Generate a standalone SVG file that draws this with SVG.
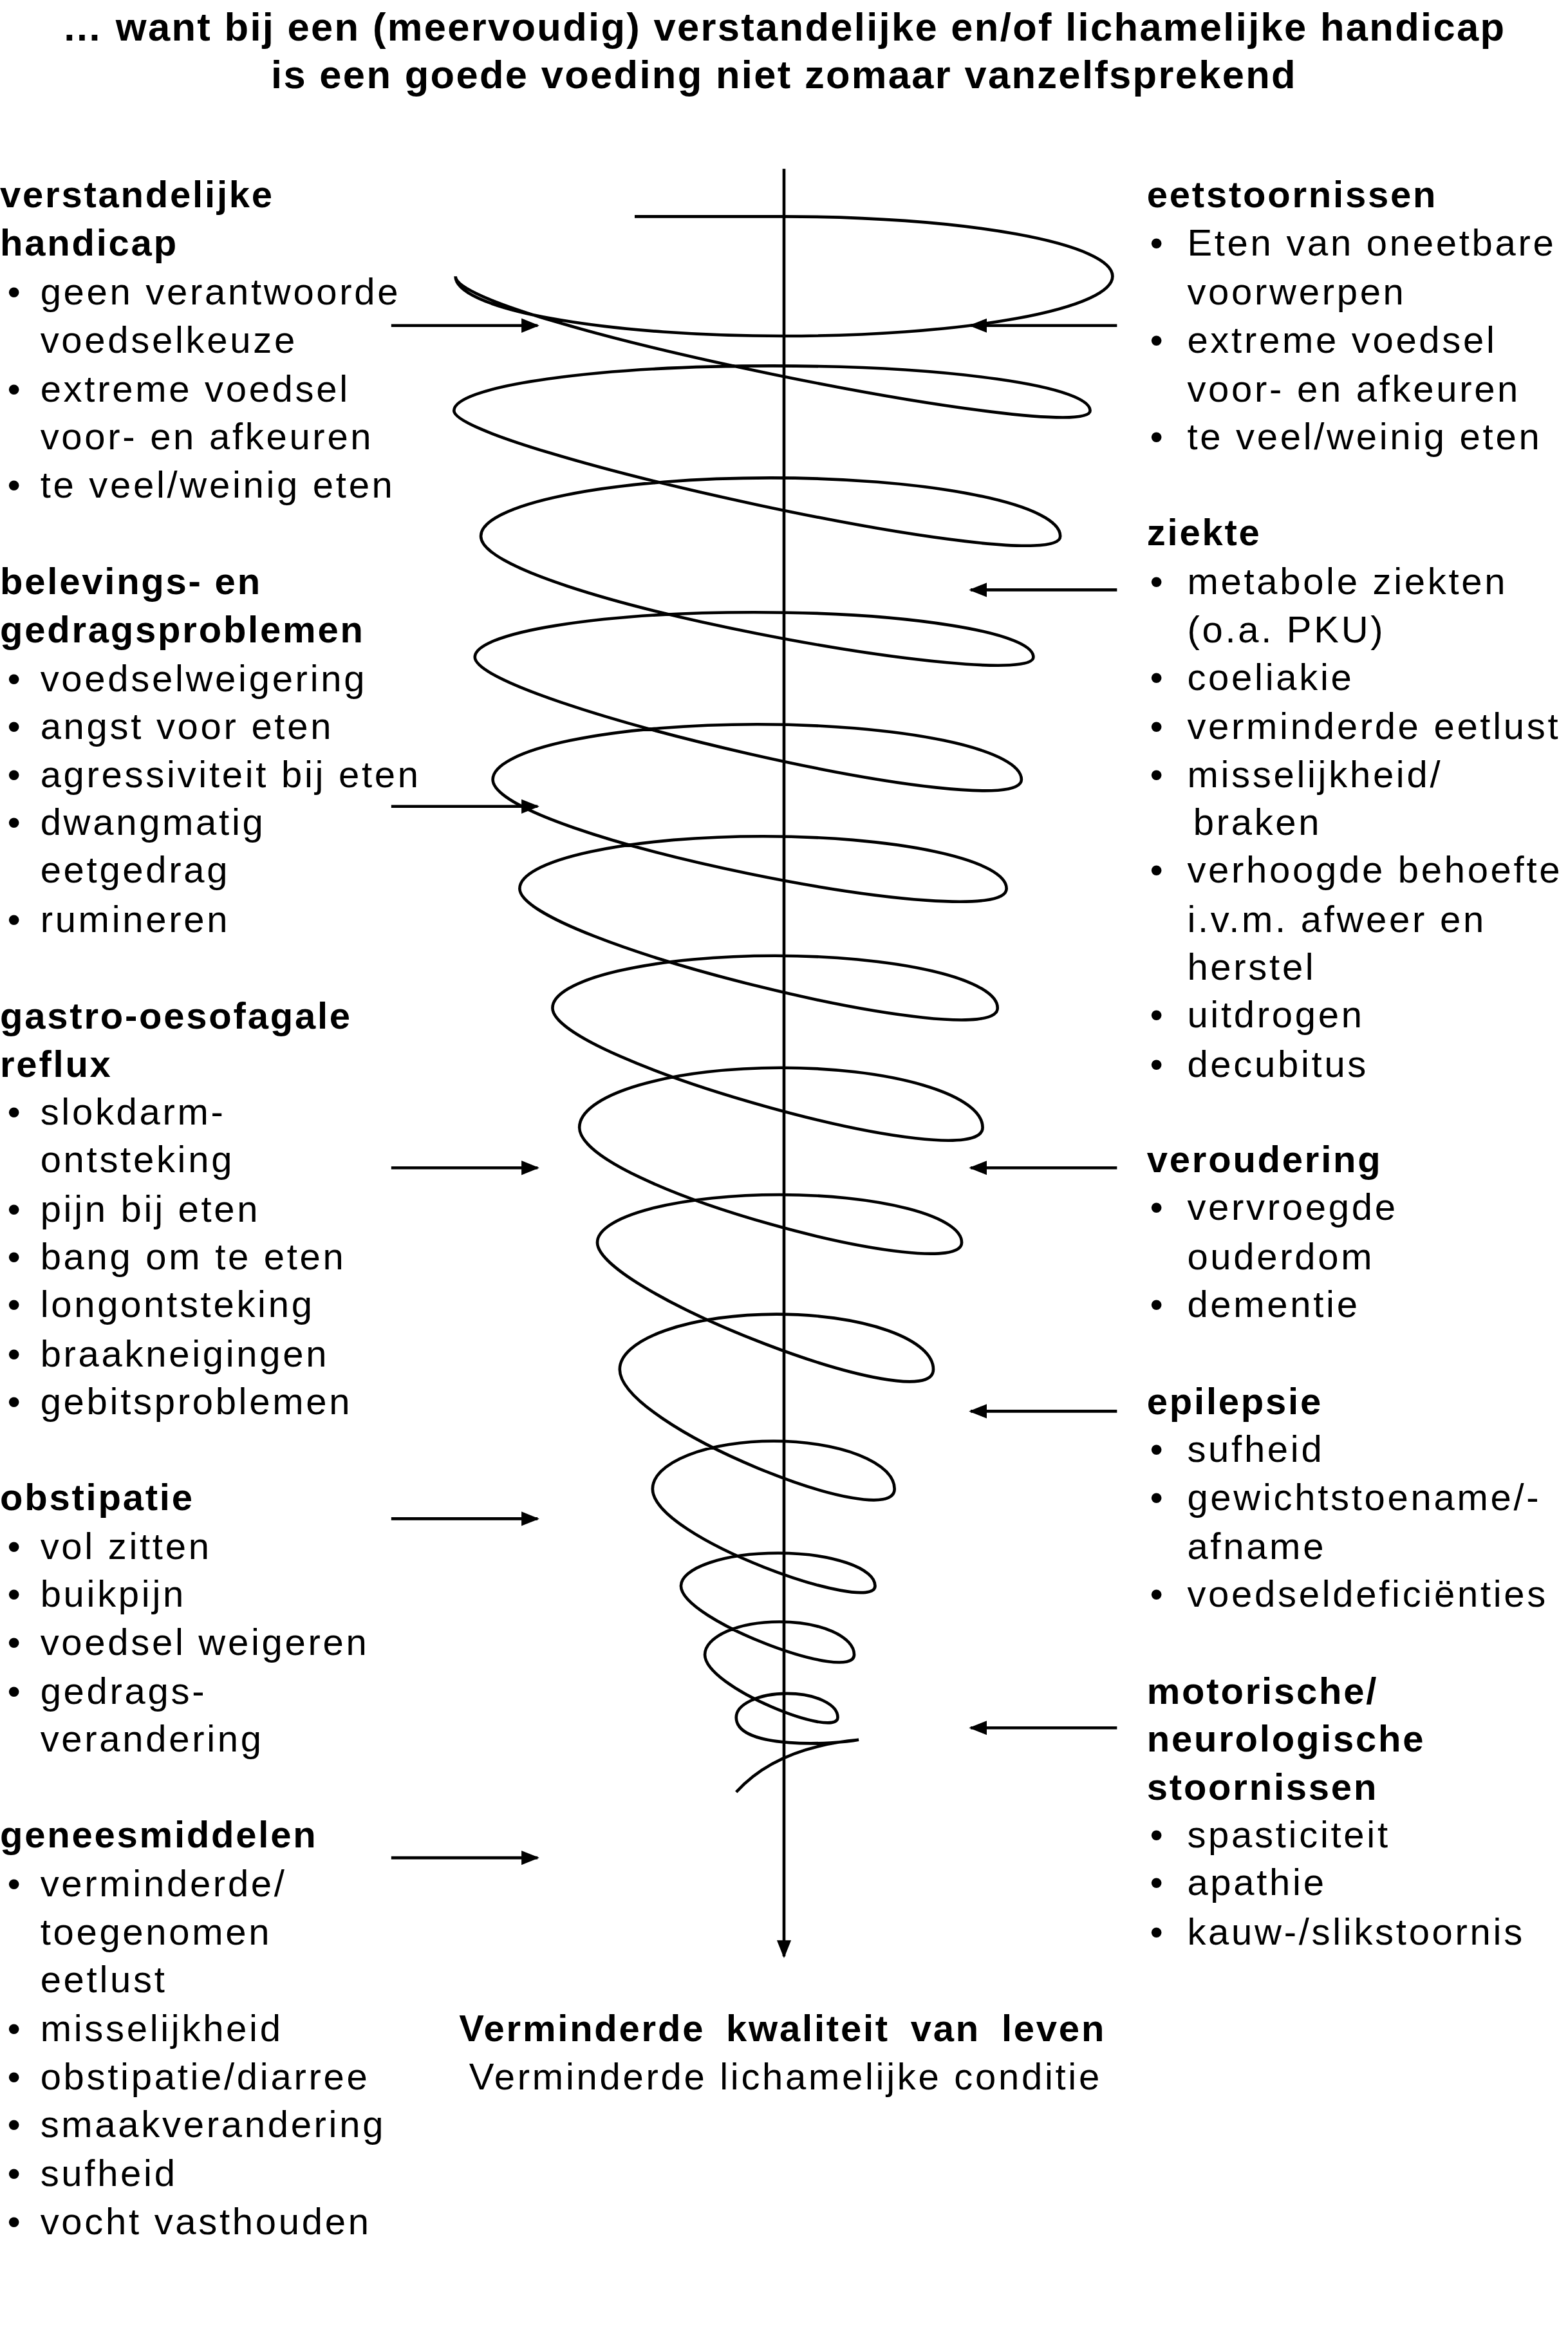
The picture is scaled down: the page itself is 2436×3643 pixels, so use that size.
<svg xmlns="http://www.w3.org/2000/svg" width="2436" height="3643" viewBox="0 0 2436 3643">
<style>
text{font-family:"Liberation Sans",Arial,sans-serif;font-size:25px;letter-spacing:1.6px;fill:#000}
.b{font-weight:bold;letter-spacing:1.2px}
.t{font-weight:bold;font-size:26.5px;letter-spacing:1px}
.ln{stroke:#000;stroke-width:2;fill:none}
</style>
<defs><marker id="ah" viewBox="0 0 10 10" refX="9" refY="5" markerWidth="6" markerHeight="6" orient="auto"><path d="M0,1 L10,5 L0,9 Z" fill="#000"/></marker></defs>
<rect width="2436" height="3643" fill="#fff"/>
<g transform="scale(2.32)">
<g id="title" text-anchor="middle"><text class="t" x="525" y="27">… want bij een (meervoudig) verstandelijke en/of lichamelijke handicap</text><text class="t" x="525" y="59">is een goede voeding niet zomaar vanzelfsprekend</text></g>
<g id="connectors">
<line class="ln" x1="525" y1="113" x2="525" y2="1310" marker-end="url(#ah)"/>
<g marker-end="url(#ah)">
<line class="ln" x1="262" y1="218" x2="360" y2="218"/><line class="ln" x1="262" y1="540" x2="360" y2="540"/><line class="ln" x1="262" y1="782" x2="360" y2="782"/><line class="ln" x1="262" y1="1017" x2="360" y2="1017"/><line class="ln" x1="262" y1="1244" x2="360" y2="1244"/>
<line class="ln" x1="748" y1="218" x2="650" y2="218"/><line class="ln" x1="748" y1="395" x2="650" y2="395"/><line class="ln" x1="748" y1="782" x2="650" y2="782"/><line class="ln" x1="748" y1="945" x2="650" y2="945"/><line class="ln" x1="748" y1="1157" x2="650" y2="1157"/>
</g>
</g>
<g id="spiral"><path class="ln" stroke-width="2.5" d="M425,145 L525,145 A220,40 0 0 1 745,185 A220,40 0 0 1 525,225 A220,40 0 0 1 305,185
C305,215 730,300 730,275 A213,30 0 0 0 517,245 A213,30 0 0 0 304,275
C304,300 710,390 710,359 A194,39 0 0 0 516,320 A194,39 0 0 0 322,359
C322,400 692,465 692,440 A187,30 0 0 0 505,410 A187,30 0 0 0 318,440
C318,470 684,555 684,522 A177,37 0 0 0 507,485 A177,37 0 0 0 330,522
C330,560 674,628 674,595 A163,35 0 0 0 511,560 A163,35 0 0 0 348,595
C348,630 668,708 668,675 A149,35 0 0 0 519,640 A149,35 0 0 0 370,675
C370,710 658,790 658,755 A135,40 0 0 0 523,715 A135,40 0 0 0 388,755
C388,795 644,862 644,832 A122,32 0 0 0 522,800 A122,32 0 0 0 400,832
C400,865 625,952 625,917 A105,37 0 0 0 520,880 A105,37 0 0 0 415,917
C415,955 599,1028 599,997 A81,32 0 0 0 518,965 A81,32 0 0 0 437,997
C437,1030 586,1082 586,1062 A65,22 0 0 0 521,1040 A65,22 0 0 0 456,1062
C456,1085 572,1128 572,1108 A50,22 0 0 0 522,1086 A50,22 0 0 0 472,1108
C472,1130 561,1165 561,1150 A34,16 0 0 0 527,1134 A34,16 0 0 0 493,1150
C493,1172 560,1168 575,1165 Q520,1170 493,1200"/></g>
<g id="left">
<text class="b" x="0" y="139">verstandelijke</text><text class="b" x="0" y="171">handicap</text>
<text x="5" y="204">•</text><text x="27" y="204">geen verantwoorde</text><text x="27" y="236">voedselkeuze</text>
<text x="5" y="269">•</text><text x="27" y="269">extreme voedsel</text><text x="27" y="301">voor- en afkeuren</text>
<text x="5" y="333">•</text><text x="27" y="333">te veel/weinig eten</text>
<text class="b" x="0" y="398">belevings- en</text><text class="b" x="0" y="430">gedragsproblemen</text>
<text x="5" y="463">•</text><text x="27" y="463">voedselweigering</text>
<text x="5" y="495">•</text><text x="27" y="495">angst voor eten</text>
<text x="5" y="527">•</text><text x="27" y="527">agressiviteit bij eten</text>
<text x="5" y="559">•</text><text x="27" y="559">dwangmatig</text><text x="27" y="591">eetgedrag</text>
<text x="5" y="624">•</text><text x="27" y="624">rumineren</text>
<text class="b" x="0" y="689">gastro-oesofagale</text><text class="b" x="0" y="721">reflux</text>
<text x="5" y="753">•</text><text x="27" y="753">slokdarm-</text><text x="27" y="785">ontsteking</text>
<text x="5" y="818">•</text><text x="27" y="818">pijn bij eten</text>
<text x="5" y="850">•</text><text x="27" y="850">bang om te eten</text>
<text x="5" y="882">•</text><text x="27" y="882">longontsteking</text>
<text x="5" y="915">•</text><text x="27" y="915">braakneigingen</text>
<text x="5" y="947">•</text><text x="27" y="947">gebitsproblemen</text>
<text class="b" x="0" y="1011">obstipatie</text>
<text x="5" y="1044">•</text><text x="27" y="1044">vol zitten</text>
<text x="5" y="1076">•</text><text x="27" y="1076">buikpijn</text>
<text x="5" y="1108">•</text><text x="27" y="1108">voedsel weigeren</text>
<text x="5" y="1141">•</text><text x="27" y="1141">gedrags-</text><text x="27" y="1173">verandering</text>
<text class="b" x="0" y="1237">geneesmiddelen</text>
<text x="5" y="1270">•</text><text x="27" y="1270">verminderde/</text><text x="27" y="1302">toegenomen</text><text x="27" y="1334">eetlust</text>
<text x="5" y="1367">•</text><text x="27" y="1367">misselijkheid</text>
<text x="5" y="1399">•</text><text x="27" y="1399">obstipatie/diarree</text>
<text x="5" y="1431">•</text><text x="27" y="1431">smaakverandering</text>
<text x="5" y="1464">•</text><text x="27" y="1464">sufheid</text>
<text x="5" y="1496">•</text><text x="27" y="1496">vocht vasthouden</text>
</g>
<g id="right">
<text class="b" x="768" y="139">eetstoornissen</text>
<text x="770" y="171">•</text><text x="795" y="171">Eten van oneetbare</text><text x="795" y="204">voorwerpen</text>
<text x="770" y="236">•</text><text x="795" y="236">extreme voedsel</text><text x="795" y="269">voor- en afkeuren</text>
<text x="770" y="301">•</text><text x="795" y="301">te veel/weinig eten</text>
<text class="b" x="768" y="365">ziekte</text>
<text x="770" y="398">•</text><text x="795" y="398">metabole ziekten</text><text x="795" y="430">(o.a. PKU)</text>
<text x="770" y="462">•</text><text x="795" y="462">coeliakie</text>
<text x="770" y="495">•</text><text x="795" y="495">verminderde eetlust</text>
<text x="770" y="527">•</text><text x="795" y="527">misselijkheid/</text><text x="799" y="559">braken</text>
<text x="770" y="591">•</text><text x="795" y="591">verhoogde behoefte</text><text x="795" y="624">i.v.m. afweer en</text><text x="795" y="656">herstel</text>
<text x="770" y="688">•</text><text x="795" y="688">uitdrogen</text>
<text x="770" y="721">•</text><text x="795" y="721">decubitus</text>
<text class="b" x="768" y="785">veroudering</text>
<text x="770" y="817">•</text><text x="795" y="817">vervroegde</text><text x="795" y="850">ouderdom</text>
<text x="770" y="882">•</text><text x="795" y="882">dementie</text>
<text class="b" x="768" y="947">epilepsie</text>
<text x="770" y="979">•</text><text x="795" y="979">sufheid</text>
<text x="770" y="1011">•</text><text x="795" y="1011">gewichtstoename/-</text><text x="795" y="1044">afname</text>
<text x="770" y="1076">•</text><text x="795" y="1076">voedseldeficiënties</text>
<text class="b" x="768" y="1141">motorische/</text><text class="b" x="768" y="1173">neurologische</text><text class="b" x="768" y="1205">stoornissen</text>
<text x="770" y="1237">•</text><text x="795" y="1237">spasticiteit</text>
<text x="770" y="1269">•</text><text x="795" y="1269">apathie</text>
<text x="770" y="1302">•</text><text x="795" y="1302">kauw-/slikstoornis</text>
</g>
<g id="bottom" text-anchor="middle"><text class="b" x="524" y="1367" word-spacing="6">Verminderde kwaliteit van leven</text><text x="526" y="1399">Verminderde lichamelijke conditie</text></g>
</g>
</svg>
